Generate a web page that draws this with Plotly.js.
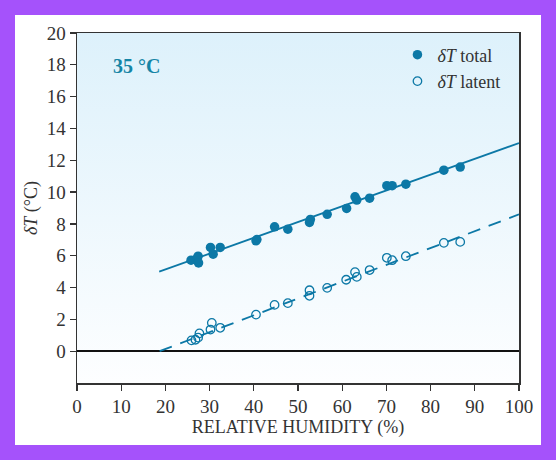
<!DOCTYPE html>
<html>
<head>
<meta charset="utf-8">
<script src="https://cdn.plot.ly/plotly-3.0.1.min.js"></script>
<style>
  html, body { margin: 0; padding: 0; background: #a552fb; }
  #frame { position: absolute; left: 15px; top: 15px; width: 526px; height: 430px; background: #ffffff; }
  #chart { position: absolute; left: 0; top: 0; width: 556px; height: 460px; }
</style>
</head>
<body>
<div id="frame"></div>
<div id="chart"></div>
<script>
(function () {
  "use strict";

  // Relative humidity (%) and temperature drop (°C)
  const rhTotal = [25.8, 27.2, 27.4, 27.5, 30.2, 30.8, 32.4, 40.5, 40.7, 44.7, 47.7, 52.6, 52.8, 56.6, 61.0, 62.9, 63.3, 66.2, 70.1, 71.3, 74.4, 83.0, 86.7];
  const dtTotal = [5.72, 5.85, 5.97, 5.55, 6.52, 6.10, 6.52, 6.94, 7.02, 7.82, 7.67, 8.09, 8.28, 8.60, 8.97, 9.70, 9.50, 9.62, 10.40, 10.40, 10.50, 11.38, 11.57];

  const rhLatent = [25.9, 26.8, 27.4, 27.7, 30.2, 30.5, 32.4, 40.5, 44.7, 47.7, 52.6, 52.6, 56.6, 60.9, 62.9, 63.3, 66.2, 70.1, 71.3, 74.4, 83.0, 86.7];
  const dtLatent = [0.68, 0.72, 0.85, 1.12, 1.36, 1.78, 1.47, 2.30, 2.91, 3.02, 3.48, 3.83, 3.98, 4.49, 4.97, 4.67, 5.10, 5.87, 5.72, 5.97, 6.81, 6.87];

  // Fitted lines (end points)
  const fitTotalX  = [18.6, 100];
  const fitTotalY  = [5.0, 13.08];
  const fitLatentX = [18.7, 100];
  const fitLatentY = [0.0, 8.6];

  const yTicks = [0, 2, 4, 6, 8, 10, 12, 14, 16, 18, 20];

  const TEAL = "#0c78a6";
  const INK = "#333333";
  const SERIF = "'Liberation Serif', 'DejaVu Serif', serif";

  // soft sky-blue wash behind the plot area
  const grad = '<svg xmlns="http://www.w3.org/2000/svg" width="10" height="100" preserveAspectRatio="none">' +
    '<defs><linearGradient id="g" x1="0" y1="0" x2="0" y2="1">' +
    '<stop offset="0" stop-color="#ddf1fb"/><stop offset="1" stop-color="#fdfeff"/>' +
    '</linearGradient></defs><rect width="10" height="100" fill="url(#g)"/></svg>';

  const traces = [
    {
      type: "scatter", mode: "lines", x: fitTotalX, y: fitTotalY,
      line: { color: TEAL, width: 1.8 }, showlegend: false, hoverinfo: "skip",
    },
    {
      type: "scatter", mode: "lines", x: fitLatentX, y: fitLatentY,
      line: { color: TEAL, width: 1.8, dash: "13px,9px" }, showlegend: false, hoverinfo: "skip",
    },
    {
      type: "scatter", mode: "markers", x: rhTotal, y: dtTotal,
      name: "<i>δT</i> total",
      marker: { symbol: "circle", size: 9.5, color: TEAL },
    },
    {
      type: "scatter", mode: "markers", x: rhLatent, y: dtLatent,
      name: "<i>δT</i> latent",
      marker: { symbol: "circle-open", size: 8.5, color: TEAL, line: { width: 1.3, color: TEAL } },
    },
  ];

  const axisCommon = {
    showline: true, linecolor: INK, linewidth: 1.5, mirror: true,
    ticks: "outside", ticklen: 6, tickwidth: 1.3, tickcolor: INK,
    showgrid: false,
    tickfont: { family: SERIF, size: 19, color: INK },
  };

  const layout = {
    width: 556, height: 460,
    margin: { l: 77, r: 37, t: 33, b: 77 },
    paper_bgcolor: "rgba(0,0,0,0)",
    plot_bgcolor: "rgba(0,0,0,0)",
    font: { family: SERIF, color: INK },
    showlegend: true,
    legend: {
      x: 0.725, y: 0.99, xanchor: "left", yanchor: "top",
      bgcolor: "rgba(0,0,0,0)", borderwidth: 0,
      font: { family: SERIF, size: 18, color: INK },
      itemwidth: 30, tracegroupgap: 0,
    },
    xaxis: {
      ...axisCommon,
      range: [0, 100], dtick: 10, tick0: 0, zeroline: false,
      title: { text: "RELATIVE HUMIDITY (%)", font: { family: SERIF, size: 18, color: INK }, standoff: 0 },
    },
    yaxis: {
      ...axisCommon,
      range: [-2, 20], tickmode: "array", tickvals: yTicks,
      zeroline: true, zerolinecolor: "#111111", zerolinewidth: 2,
      title: { text: "<i>δT</i> (°C)", font: { family: SERIF, size: 18, color: INK }, standoff: 4 },
    },
    annotations: [{
      xref: "paper", yref: "paper", x: 0.078, y: 0.905,
      xanchor: "left", yanchor: "middle", showarrow: false,
      text: "<b>35 °C</b>",
      font: { family: SERIF, size: 20, color: "#1585a6" },
    }],
    images: [{
      source: "data:image/svg+xml;charset=utf-8," + encodeURIComponent(grad),
      xref: "paper", yref: "paper", x: 0, y: 1, sizex: 1, sizey: 1,
      xanchor: "left", yanchor: "top", sizing: "stretch", layer: "below",
    }],
  };

  Plotly.newPlot("chart", traces, layout, { displayModeBar: false, staticPlot: true });
})();
</script>
</body>
</html>
